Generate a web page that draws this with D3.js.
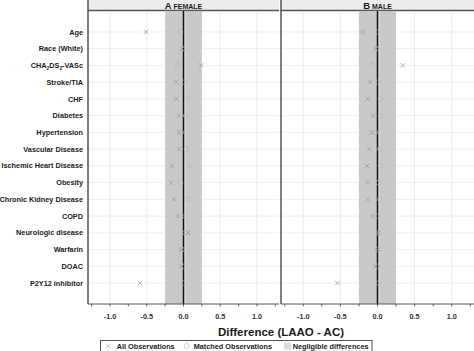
<!DOCTYPE html>
<html><head><meta charset="utf-8">
<script src="https://cdn.jsdelivr.net/npm/d3@7"></script>
<style>
html,body{margin:0;padding:0;background:#fff;}
svg{display:block;font-family:"Liberation Sans",Arial,sans-serif;}
</style></head>
<body>
<svg id="chart" width="474" height="351"></svg>
<script>
const categories = ["Age","Race (White)","CHA2DS2-VASc","Stroke/TIA","CHF","Diabetes","Hypertension","Vascular Disease","Ischemic Heart Disease","Obesity","Chronic Kidney Disease","COPD","Neurologic disease","Warfarin","DOAC","P2Y12 inhibitor"];
const panels = [{letter:"A", name:"FEMALE"}, {letter:"B", name:"MALE"}];
const femaleAll     = [-0.51,-0.02, 0.24,-0.10,-0.10,-0.06,-0.06,-0.06,-0.16,-0.17,-0.13,-0.08, 0.06,-0.03,-0.03,-0.59];
const femaleMatched = [-0.04, 0.00,-0.08, 0.01, 0.05, 0.03,-0.03, 0.04, 0.08,-0.04, 0.05, 0.02, 0.02,-0.02, 0.00, 0.00];
const maleAll       = [-0.20,-0.02, 0.34,-0.10,-0.13,-0.06,-0.08,-0.11,-0.14,-0.13,-0.13,-0.07, 0.01, 0.00,-0.03,-0.54];
const maleMatched   = [-0.01,-0.01,-0.07, 0.01, 0.04, 0.04,-0.03, 0.03, 0.04, 0.01, 0.03, 0.00, 0.01, 0.00, 0.00, 0.01];
const negligible = [-0.25, 0.25];
const majorTicks = [-1.0,-0.5,0,0.5,1.0];
const minorTicks = [-1.25,-0.75,-0.25,0.25,0.75,1.25];
const xDomain = [-1.3, 1.3];
const legendLabels = ["All Observations","Matched Observations","Negligible differences"];
const xTitle = "Difference (LAAO - AC)";

const svg = d3.select("#chart");
const plotTop = 11, plotBottom = 304;
const panelRanges = [[88, 279], [281, 474]];
const seriesAll = [femaleAll, maleAll];
const seriesMatched = [femaleMatched, maleMatched];

const y = d3.scalePoint().domain(categories).range([plotTop, plotBottom]).padding(1.25);
const fs = 7.3;

// y labels
const yl = svg.append("g");
categories.forEach(c => {
  const t = yl.append("text").attr("x", 83).attr("y", y(c) + 2.6)
    .attr("text-anchor","end").attr("font-size", fs).attr("font-weight","bold").attr("fill","#1a1a1a");
  if (c === "CHA2DS2-VASc") {
    t.append("tspan").text("CHA");
    t.append("tspan").text("2").attr("font-size", 4.8).attr("dy", 1.8);
    t.append("tspan").text("DS").attr("dy", -1.8);
    t.append("tspan").text("2").attr("font-size", 4.8).attr("dy", 1.8);
    t.append("tspan").text("-VASc").attr("dy", -1.8);
  } else t.text(c);
});

panels.forEach((p, i) => {
  const [x0, x1] = panelRanges[i];
  const x = d3.scaleLinear().domain(xDomain).range([x0, x1]);
  const g = svg.append("g");
  // strip
  g.append("rect").attr("x", x0).attr("y", 0).attr("width", x1 - x0).attr("height", plotTop).attr("fill", "#ececec");
  g.append("line").attr("x1", x0).attr("x2", x1).attr("y1", plotTop - 0.5).attr("y2", plotTop - 0.5).attr("stroke", "#555").attr("stroke-width", 1.3);
  const st = g.append("text").attr("x", (x0 + x1) / 2).attr("y", 8.8).attr("text-anchor", "middle").attr("font-weight", "bold").attr("fill", "#1a1a1a");
  st.append("tspan").text(p.letter).attr("font-size", 9.5);
  st.append("tspan").text(" " + p.name).attr("font-size", 7);
  // gridlines
  g.selectAll(".hg").data(categories).join("line")
    .attr("x1", x0).attr("x2", x1).attr("y1", d => y(d)).attr("y2", d => y(d))
    .attr("stroke", "#ebebeb").attr("stroke-width", 0.8);
  g.selectAll(".vg").data(majorTicks).join("line")
    .attr("x1", d => x(d)).attr("x2", d => x(d)).attr("y1", plotTop).attr("y2", plotBottom)
    .attr("stroke", "#e6e6e6").attr("stroke-width", 0.8);
  // negligible band
  g.append("rect").attr("x", x(negligible[0])).attr("y", plotTop)
    .attr("width", x(negligible[1]) - x(negligible[0])).attr("height", plotBottom - plotTop).attr("fill", "#c9c9c9");
  // zero line
  g.append("line").attr("x1", x(0) + 1.6).attr("x2", x(0) + 1.6).attr("y1", plotTop).attr("y2", plotBottom).attr("stroke", "#e4e4e4").attr("stroke-width", 1);
  g.append("line").attr("x1", x(0)).attr("x2", x(0)).attr("y1", plotTop).attr("y2", plotBottom).attr("stroke", "#111").attr("stroke-width", 1.5);
  // matched circles
  g.selectAll(".mc").data(seriesMatched[i]).join("circle")
    .attr("cx", d => x(d)).attr("cy", (d, j) => y(categories[j])).attr("r", 2.3)
    .attr("fill", "none").attr("stroke", "#b8b8b8").attr("stroke-width", 0.7);
  // all crosses
  const s = 2.2;
  g.selectAll(".ax").data(seriesAll[i]).join("path")
    .attr("d", (d, j) => {
      const cx = x(d), cy = y(categories[j]);
      return `M${cx - s},${cy - s}L${cx + s},${cy + s}M${cx - s},${cy + s}L${cx + s},${cy - s}`;
    })
    .attr("stroke", "#9a9a9a").attr("stroke-width", 0.8).attr("fill", "none");
  // axes lines
  g.append("line").attr("x1", x0).attr("x2", x0).attr("y1", 0).attr("y2", plotBottom).attr("stroke", "#555").attr("stroke-width", 1.5);
  g.append("line").attr("x1", x0).attr("x2", x1).attr("y1", plotBottom).attr("y2", plotBottom).attr("stroke", "#555").attr("stroke-width", 1.2);
  // ticks
  g.selectAll(".tk").data(majorTicks.concat(minorTicks)).join("line")
    .attr("x1", d => x(d)).attr("x2", d => x(d)).attr("y1", plotBottom).attr("y2", plotBottom + 2.5)
    .attr("stroke", "#444").attr("stroke-width", 0.8);
  g.selectAll(".tl").data(majorTicks).join("text")
    .attr("x", d => x(d)).attr("y", 319).attr("text-anchor", "middle")
    .attr("font-size", fs).attr("font-weight", "bold").attr("fill", "#333")
    .text(d => d3.format(".1f")(d).replace("−", "-"));
});

// x title
svg.append("text").attr("x", 281).attr("y", 336).attr("text-anchor", "middle")
  .attr("font-size", 11.5).attr("font-weight", "bold").attr("fill", "#1a1a1a").text(xTitle);

// legend
const lg = svg.append("g");
lg.append("rect").attr("x", 100.5).attr("y", 340.5).attr("width", 271.5).attr("height", 14)
  .attr("fill", "#fff").attr("stroke", "#555").attr("stroke-width", 1);
const ly = 346;
lg.append("path").attr("d", `M${108.3 - 2.5},${ly - 2.5}L${108.3 + 2.5},${ly + 2.5}M${108.3 - 2.5},${ly + 2.5}L${108.3 + 2.5},${ly - 2.5}`)
  .attr("stroke", "#b0b0b0").attr("stroke-width", 0.8);
lg.append("circle").attr("cx", 186.7).attr("cy", ly).attr("r", 2.5).attr("fill", "none").attr("stroke", "#c4c4c4").attr("stroke-width", 0.7);
lg.append("rect").attr("x", 284).attr("y", ly - 3.5).attr("width", 7).attr("height", 7).attr("fill", "#dcdcdc");
const lx = [116.7, 193.7, 292.7];
legendLabels.forEach((t, i) => {
  lg.append("text").attr("x", lx[i]).attr("y", ly + 2.6).attr("font-size", fs).attr("font-weight", "bold").attr("fill", "#1a1a1a").text(t);
});
</script>
</body></html>
